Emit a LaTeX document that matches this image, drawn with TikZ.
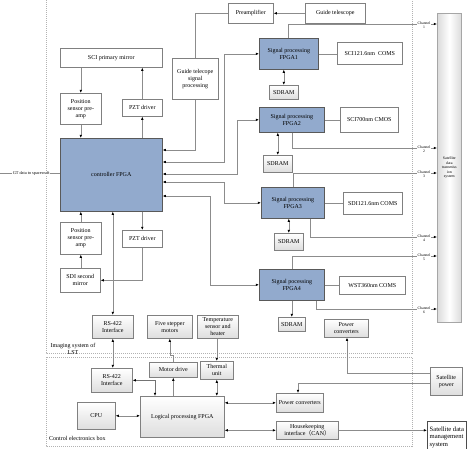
\documentclass[tikz,border=0pt]{standalone}
\usepackage{fontspec}
\setmainfont{Liberation Serif}
\newfontfamily\cjk{Noto Sans CJK SC}
\usetikzlibrary{arrows.meta,calc}
\begin{document}
\begin{tikzpicture}[x=1pt,y=-1pt,
  every node/.style={font=\fontsize{6}{6.9}\selectfont},
  box/.style={draw=black!50, line width=0.6pt, fill=white, inner sep=0pt, align=center, anchor=north west},
  gbox/.style={box, top color=white, bottom color=black!13},
  fpga/.style={box, fill={rgb,255:red,146;green,170;blue,205}, draw=black!65},
  ln/.style={draw=black!45, line width=0.6pt},
  tip/.style={},
  arr/.style={ln, -{Latex[length=3.2pt,width=2.6pt,color=black]}},
  biarr/.style={ln, {Latex[length=3.2pt,width=2.6pt,color=black]}-{Latex[length=3.2pt,width=2.6pt,color=black]}},
  dashbox/.style={draw=black!30, dash pattern=on 1pt off 1pt, line width=0.5pt},
  chlab/.style={font=\fontsize{3.8}{4.2}\selectfont, fill=white, inner sep=0.3pt, align=center},
]
\useasboundingbox (0,0) rectangle (474,448);

% dashed frames
\draw[dashbox] (46,-2) -- (46,353) -- (412,353) -- (412,-2);
\draw[dashbox] (46,357) rectangle (412,446);
\node[anchor=north, align=center] (imglab) at (73,340) {Imaging system of\\LST};
\node[anchor=west, inner sep=0pt] (ctlab) at (49,438) {Control electronics box};

% upper left boxes
\node[box, minimum width=102pt, minimum height=19pt] (pm) at (60,48) {SCI primary mirror};
\node[box, minimum width=41pt, minimum height=31pt] (ps1) at (60,93) {Position\\sensor pre-\\amp};
\node[box, minimum width=40pt, minimum height=17pt] (pzt1) at (122,99) {PZT driver};
\node[box, minimum width=46pt, minimum height=41pt] (gtsp) at (172,58) {Guide telecope\\signal\\processing};
\node[box, minimum width=45pt, minimum height=20pt] (pre) at (228,3) {Preamplifier};
\node[box, minimum width=60pt, minimum height=20pt] (gt) at (305,3) {Guide telescope};
\node[fpga, minimum width=102pt, minimum height=73pt] (ctrl) at (60,138) {controller FPGA};
\node[box, minimum width=41pt, minimum height=32pt] (ps2) at (60,222) {Position\\sensor pre-\\amp};
\node[box, minimum width=40pt, minimum height=17pt] (pzt2) at (122,230) {PZT driver};
\node[box, minimum width=40pt, minimum height=24pt] (sdi) at (60,268) {SDI second\\mirror};

% lower boxes
\node[gbox, minimum width=41pt, minimum height=23pt] (rs1) at (92,315) {RS-422\\Interface};
\node[gbox, minimum width=45pt, minimum height=23pt] (fsm) at (147,315) {Five stepper\\motors};
\node[gbox, minimum width=41pt, minimum height=23pt] (tsh) at (197,315) {Temperature\\sensor and\\heater};
\node[gbox, minimum width=41pt, minimum height=24pt] (rs2) at (91,368) {RS-422\\Interface};
\node[gbox, minimum width=48pt, minimum height=15pt] (md) at (149,362) {Motor drive};
\node[gbox, minimum width=33pt, minimum height=18pt] (tu) at (200,361) {Thermal\\unit};
\node[gbox, minimum width=84pt, minimum height=41pt] (lpf) at (140,396) {Logical processing FPGA};
\node[gbox, minimum width=38pt, minimum height=27pt] (cpu) at (77,402) {CPU};
\node[gbox, minimum width=47pt, minimum height=19pt] (pc2) at (276,393) {Power converters};
\node[gbox, minimum width=62pt, minimum height=18pt] (hk) at (276,421) {Housekeeping\\interface{\cjk （}CAN{\cjk ）}};
\node[box, draw=black!70, minimum width=39pt, minimum height=32pt, font=\fontsize{6.6}{7.6}\selectfont, align=left] (sdm) at (427,421) {Satellite data\\management\\system};
\node[gbox, minimum width=32pt, minimum height=28pt] (sp) at (430,367) {Satellite\\power};
\node[gbox, minimum width=44pt, minimum height=18pt] (pc1) at (324,319) {Power\\converters};

% signal processing column
\node[fpga, minimum width=59pt, minimum height=31pt] (f1) at (259,38) {Signal processing\\FPGA1};
\node[box, minimum width=65pt, minimum height=22pt] (sci1) at (337,42) {SCI121.6nm~~COMS};
\node[gbox, minimum width=29pt, minimum height=14pt] (sd1) at (269,85) {SDRAM};
\node[fpga, minimum width=65pt, minimum height=25pt] (f2) at (259,107) {Signal processing\\FPGA2};
\node[box, minimum width=58pt, minimum height=25pt] (sci2) at (340,107) {SCI700nm CMOS};
\node[gbox, minimum width=29pt, minimum height=17pt] (sd2) at (263,155) {SDRAM};
\node[fpga, minimum width=63pt, minimum height=31pt] (f3) at (261,187) {Signal processing\\FPGA3};
\node[box, minimum width=59pt, minimum height=22pt] (sdi3) at (343,192) {SDI121.6nm COMS};
\node[gbox, minimum width=29pt, minimum height=17pt] (sd3) at (274,233) {SDRAM};
\node[fpga, minimum width=65pt, minimum height=31pt] (f4) at (259,269) {Signal pocessing\\FPGA4};
\node[box, minimum width=66pt, minimum height=18pt] (wst) at (339,276) {WST360nm COMS};
\node[gbox, minimum width=27pt, minimum height=14pt] (sd4) at (278,317) {SDRAM};
\node[box, draw=black!35, left color=black!14, right color=black!14, middle color=white, minimum width=24pt, minimum height=309pt, font=\fontsize{3.9}{4.6}\selectfont] (sdts) at (437,13) {Satellite\\data\\transmiss\\ion\\system};

% top connectors
\draw[arr] (gt.west) -- (pre.east);
\draw[ln] (pre.west) -| (gtsp.north);
\draw[arr] (gtsp.south) |- (ctrl.east |- 0,150);
\draw[arr] (pm.south -| ps1.north) -- (ps1.north);
\draw[arr] (ps1.south) -- (ps1.south |- ctrl.north);
\draw[arr] (pzt1.south |- ctrl.north) -- (pzt1.south);
\draw[arr] (pzt1.north) -- (pzt1.north |- pm.south);

% controller to FPGAs
\draw[biarr] (ctrl.east |- 0,162) -- (224,162) |- (f1.west);
\draw[biarr] (ctrl.east |- 0,174) -- (237,174) |- (f2.west);
\draw[biarr] (ctrl.east |- 0,182) -- (224,182) |- (f3.west);
\draw[biarr] (ctrl.east |- 0,196) -- (210,196) |- (f4.west);

% GT data
\coordinate (gtl) at (0,173);
\draw[ln] (gtl) -- (ctrl.west |- gtl) node[pos=0.52, fill=white, inner sep=0.4pt, font=\fontsize{4.3}{5}\selectfont] (gtlab) {GT data to spacecraft};

% controller bottom
\draw[arr] (pzt2.north |- ctrl.south) -- (pzt2.north);
\draw[arr] (ps2.north) -- (ps2.north |- ctrl.south);
\draw[arr] (sdi.north -| ps2.south) -- (ps2.south);
\draw[arr] (pzt2.south) |- (sdi.east);
\draw[biarr] (rs1.north |- ctrl.south) -- (rs1.north);

% lower connectors
\draw[biarr] (rs1.south) -- (rs1.south |- rs2.north);
\draw[arr] (md.north) |- (fsm.south |- 0,355) -- (fsm.south);
\draw[arr] (md.south |- lpf.north) -- (md.south);
\draw[arr] (tu.north |- tsh.south) -- (tu.north);
\draw[biarr] (tu.south) -- (tu.south |- lpf.north);
\draw[biarr, line width=1pt, draw=black!55] (rs2.east) -| (155,0 |- lpf.north);
\draw[biarr] (cpu.east) -- (cpu.east -| lpf.west);
\draw[biarr] (lpf.east |- pc2.west) -- (pc2.west);
\draw[biarr] (lpf.east |- hk.west) -- (hk.west);
\draw[arr] (hk.east) -- (hk.east -| sdm.west);
\draw[arr] (sp.west |- 0,373) -| (347,0 |- pc1.south);
\draw[arr] (sp.west |- 0,383) -| (298,0 |- pc2.north);

% FPGA local connectors
\draw[ln] (f1.east) -- (f1.east -| sci1.west);
\draw[ln] (f2.east) -- (f2.east -| sci2.west);
\draw[ln] (f3.east) -- (f3.east -| sdi3.west);
\draw[ln] (f4.east) -- (f4.east -| wst.west);
\draw[biarr] (sd1.north |- f1.south) -- (sd1.north);
\draw[biarr] (sd2.north |- f2.south) -- (sd2.north);
\draw[biarr] (sd3.north |- f3.south) -- (sd3.north);
\draw[arr] (sd4.north |- f4.south) -- (sd4.north);

% channels
\draw[arr] (288,0 |- f1.north) |- (sdts.west |- 0,24);
\draw[arr] (292,0 |- f2.south) |- (sdts.west |- 0,148);
\draw[arr] (293,0 |- f3.north) |- (sdts.west |- 0,173);
\draw[arr] (310,0 |- f3.south) |- (sdts.west |- 0,237);
\draw[arr] (292,0 |- f4.north) |- (sdts.west |- 0,256);
\draw[arr] (316,0 |- f4.south) |- (sdts.west |- 0,309);
\node[chlab] (ch1) at (424,25) {Channel\\1};
\node[chlab] (ch2) at (424,149) {Channel\\2};
\node[chlab] (ch3) at (424,174) {Channel\\3};
\node[chlab] (ch4) at (424,238) {Channel\\4};
\node[chlab] (ch5) at (424,257) {Channel\\5};
\node[chlab] (ch6) at (424,310) {Channel\\6};
\end{tikzpicture}
\end{document}
